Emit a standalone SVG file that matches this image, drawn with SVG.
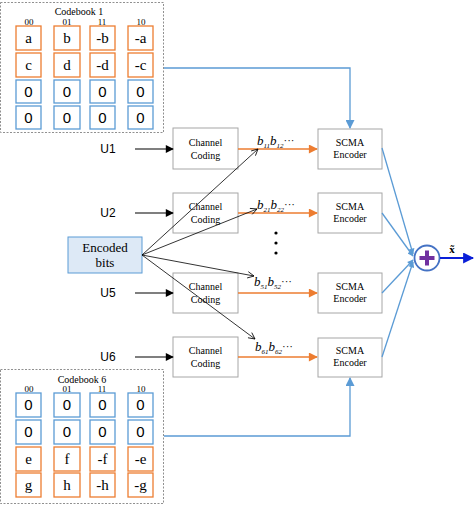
<svg xmlns="http://www.w3.org/2000/svg" width="474" height="505" viewBox="0 0 474 505">
<defs>
<style>
.serif{font-family:'Liberation Serif','DejaVu Serif',serif;fill:#000}
.sans{font-family:'Liberation Sans','DejaVu Sans',sans-serif;fill:#000}
.cb{fill:none;stroke:#909090;stroke-width:1;stroke-dasharray:2,1.5}
.co{fill:#fff;stroke:#ed7d31;stroke-width:1.3}
.cbl{fill:#fff;stroke:#5b9bd5;stroke-width:1.3}
.box{fill:#fff;stroke:#a6a6a6;stroke-width:1}
.cell{font-size:15px;text-anchor:middle}
.hdr{font-size:9px;text-anchor:middle}
.lbl{font-size:10px;text-anchor:middle}
.u{font-size:12px;text-anchor:middle}
.blk{stroke:#000;stroke-width:1.2;fill:none}
.thin{stroke:#000;stroke-width:0.8;fill:none}
.org{stroke:#ed7d31;stroke-width:1.6;fill:none}
.blu{stroke:#5b9bd5;stroke-width:1.3;fill:none}
.bit{font-size:13px;font-style:italic}
.sub{font-size:7px;font-style:italic}
</style>
<marker id="ab" viewBox="0 0 10 10" refX="9" refY="5" markerWidth="10" markerHeight="8" markerUnits="userSpaceOnUse" orient="auto"><path d="M0,0 L10,5 L0,10 Z" fill="#000"/></marker>
<marker id="ao" viewBox="0 0 10 10" refX="9" refY="5" markerWidth="10" markerHeight="9" markerUnits="userSpaceOnUse" orient="auto"><path d="M0,0 L10,5 L0,10 Z" fill="#ed7d31"/></marker>
<marker id="abl" viewBox="0 0 10 10" refX="9" refY="5" markerWidth="10" markerHeight="9" markerUnits="userSpaceOnUse" orient="auto"><path d="M0,0 L10,5 L0,10 Z" fill="#5b9bd5"/></marker>
<marker id="abl2" viewBox="0 0 10 10" refX="9" refY="5" markerWidth="7" markerHeight="6" markerUnits="userSpaceOnUse" orient="auto"><path d="M0,0 L10,5 L0,10 Z" fill="#5b9bd5"/></marker>
<marker id="aopen" viewBox="0 0 10 10" refX="9" refY="5" markerWidth="8" markerHeight="8" markerUnits="userSpaceOnUse" orient="auto"><path d="M1,1 L9,5 L1,9" fill="none" stroke="#000" stroke-width="1"/></marker>
<marker id="ablue" viewBox="0 0 10 10" refX="9" refY="5" markerWidth="14" markerHeight="11" markerUnits="userSpaceOnUse" orient="auto"><path d="M0,0 L10,5 L0,10 Z" fill="#0a1fd8"/></marker>
</defs>

<g id="codebook1">
<rect class="cb" x="0.5" y="2.5" width="163" height="130"/>
<text class="serif lbl" x="79" y="15">Codebook 1</text>
<text class="serif hdr" x="29" y="25">00</text>
<text class="serif hdr" x="67" y="25">01</text>
<text class="serif hdr" x="102" y="25">11</text>
<text class="serif hdr" x="141" y="25">10</text>
<rect class="co" x="16" y="26" width="25" height="24"/>
<rect class="co" x="54" y="26" width="26" height="24"/>
<rect class="co" x="90" y="26" width="25" height="24"/>
<rect class="co" x="128" y="26" width="25" height="24"/>
<rect class="co" x="16" y="53" width="25" height="24"/>
<rect class="co" x="54" y="53" width="26" height="24"/>
<rect class="co" x="90" y="53" width="25" height="24"/>
<rect class="co" x="128" y="53" width="25" height="24"/>
<rect class="cbl" x="16" y="80" width="25" height="23"/>
<rect class="cbl" x="54" y="80" width="26" height="23"/>
<rect class="cbl" x="90" y="80" width="25" height="23"/>
<rect class="cbl" x="128" y="80" width="25" height="23"/>
<rect class="cbl" x="16" y="106" width="25" height="23"/>
<rect class="cbl" x="54" y="106" width="26" height="23"/>
<rect class="cbl" x="90" y="106" width="25" height="23"/>
<rect class="cbl" x="128" y="106" width="25" height="23"/>
<text class="serif cell" x="28.5" y="43">a</text>
<text class="serif cell" x="67" y="43">b</text>
<text class="serif cell" x="102.5" y="43">-b</text>
<text class="serif cell" x="140.5" y="43">-a</text>
<text class="serif cell" x="28.5" y="70">c</text>
<text class="serif cell" x="67" y="70">d</text>
<text class="serif cell" x="102.5" y="70">-d</text>
<text class="serif cell" x="140.5" y="70">-c</text>
<text class="sans cell" x="28.5" y="97">0</text>
<text class="sans cell" x="67" y="97">0</text>
<text class="sans cell" x="102.5" y="97">0</text>
<text class="sans cell" x="140.5" y="97">0</text>
<text class="sans cell" x="28.5" y="123">0</text>
<text class="sans cell" x="67" y="123">0</text>
<text class="sans cell" x="102.5" y="123">0</text>
<text class="sans cell" x="140.5" y="123">0</text>
</g>

<g id="codebook6">
<rect class="cb" x="0.5" y="369.5" width="163" height="134"/>
<text class="serif lbl" x="82" y="383">Codebook 6</text>
<text class="serif hdr" x="29" y="392">00</text>
<text class="serif hdr" x="67" y="392">01</text>
<text class="serif hdr" x="102" y="392">11</text>
<text class="serif hdr" x="141" y="392">10</text>
<rect class="cbl" x="16" y="393" width="25" height="24"/>
<rect class="cbl" x="54" y="393" width="26" height="24"/>
<rect class="cbl" x="90" y="393" width="25" height="24"/>
<rect class="cbl" x="128" y="393" width="25" height="24"/>
<rect class="cbl" x="16" y="420" width="25" height="24"/>
<rect class="cbl" x="54" y="420" width="26" height="24"/>
<rect class="cbl" x="90" y="420" width="25" height="24"/>
<rect class="cbl" x="128" y="420" width="25" height="24"/>
<rect class="co" x="16" y="447" width="25" height="24"/>
<rect class="co" x="54" y="447" width="26" height="24"/>
<rect class="co" x="90" y="447" width="25" height="24"/>
<rect class="co" x="128" y="447" width="25" height="24"/>
<rect class="co" x="16" y="473" width="25" height="24"/>
<rect class="co" x="54" y="473" width="26" height="24"/>
<rect class="co" x="90" y="473" width="25" height="24"/>
<rect class="co" x="128" y="473" width="25" height="24"/>
<text class="sans cell" x="28.5" y="410">0</text>
<text class="sans cell" x="67" y="410">0</text>
<text class="sans cell" x="102.5" y="410">0</text>
<text class="sans cell" x="140.5" y="410">0</text>
<text class="sans cell" x="28.5" y="437">0</text>
<text class="sans cell" x="67" y="437">0</text>
<text class="sans cell" x="102.5" y="437">0</text>
<text class="sans cell" x="140.5" y="437">0</text>
<text class="serif cell" x="28.5" y="464">e</text>
<text class="serif cell" x="67" y="464">f</text>
<text class="serif cell" x="102.5" y="464">-f</text>
<text class="serif cell" x="140.5" y="464">-e</text>
<text class="serif cell" x="28.5" y="490">g</text>
<text class="serif cell" x="67" y="490">h</text>
<text class="serif cell" x="102.5" y="490">-h</text>
<text class="serif cell" x="140.5" y="490">-g</text>
</g>

<g id="users">
<text class="sans u" x="108" y="153">U1</text>
<text class="sans u" x="108" y="217">U2</text>
<text class="sans u" x="108" y="297">U5</text>
<text class="sans u" x="108" y="361">U6</text>
</g>

<g id="encoded-bits">
<rect x="68" y="237" width="74" height="36" fill="#dde9f6" stroke="#5b9bd5" stroke-width="1"/>
<text class="serif" font-size="13" text-anchor="middle" x="105" y="252">Encoded</text>
<text class="serif" font-size="13" text-anchor="middle" x="105" y="267">bits</text>
</g>

<g id="channel-coding-1"><rect class="box" x="173" y="128" width="65" height="41"/><text class="serif lbl" x="205.5" y="146">Channel</text><text class="serif lbl" x="205.5" y="159">Coding</text></g>
<g id="channel-coding-2"><rect class="box" x="173" y="193" width="65" height="40"/><text class="serif lbl" x="205.5" y="210">Channel</text><text class="serif lbl" x="205.5" y="223">Coding</text></g>
<g id="channel-coding-5"><rect class="box" x="173" y="273" width="65" height="40"/><text class="serif lbl" x="205.5" y="290">Channel</text><text class="serif lbl" x="205.5" y="303">Coding</text></g>
<g id="channel-coding-6"><rect class="box" x="173" y="337" width="65" height="40"/><text class="serif lbl" x="205.5" y="354">Channel</text><text class="serif lbl" x="205.5" y="367">Coding</text></g>

<g id="scma-1"><rect class="box" x="318" y="129" width="64" height="40"/><text class="serif lbl" x="350" y="146">SCMA</text><text class="serif lbl" x="350" y="158">Encoder</text></g>
<g id="scma-2"><rect class="box" x="318" y="193" width="64" height="40"/><text class="serif lbl" x="350" y="210">SCMA</text><text class="serif lbl" x="350" y="222">Encoder</text></g>
<g id="scma-5"><rect class="box" x="318" y="273" width="64" height="40"/><text class="serif lbl" x="350" y="290">SCMA</text><text class="serif lbl" x="350" y="302">Encoder</text></g>
<g id="scma-6"><rect class="box" x="318" y="338" width="64" height="39"/><text class="serif lbl" x="350" y="354">SCMA</text><text class="serif lbl" x="350" y="366">Encoder</text></g>

<g id="adder">
<circle cx="427" cy="258" r="12.5" fill="#fff" stroke="#4472c4" stroke-width="1.8"/>
<path d="M427,250.5 V265.5 M419.5,258 H434.5" stroke="#7030a0" stroke-width="4" fill="none"/>
</g>

<g id="bit-labels">
<text class="serif" x="257" y="145"><tspan class="bit">b</tspan><tspan class="sub" dy="3">11</tspan><tspan class="bit" dy="-3">b</tspan><tspan class="sub" dy="3">12</tspan><tspan font-size="11" dy="-4">···</tspan></text>
<text class="serif" x="257" y="209"><tspan class="bit">b</tspan><tspan class="sub" dy="3">21</tspan><tspan class="bit" dy="-3">b</tspan><tspan class="sub" dy="3">22</tspan><tspan font-size="11" dy="-4">···</tspan></text>
<text class="serif" x="254" y="286"><tspan class="bit">b</tspan><tspan class="sub" dy="3">51</tspan><tspan class="bit" dy="-3">b</tspan><tspan class="sub" dy="3">52</tspan><tspan font-size="11" dy="-4">···</tspan></text>
<text class="serif" x="255" y="351"><tspan class="bit">b</tspan><tspan class="sub" dy="3">61</tspan><tspan class="bit" dy="-3">b</tspan><tspan class="sub" dy="3">62</tspan><tspan font-size="11" dy="-4">···</tspan></text>
<circle cx="276" cy="233" r="1.6" fill="#000"/>
<circle cx="276" cy="243" r="1.6" fill="#000"/>
<circle cx="276" cy="253" r="1.6" fill="#000"/>
<text class="serif" font-size="11" font-weight="bold" text-anchor="middle" x="452" y="253">x̃</text>
</g>

<g id="connectors">
<line class="blk" x1="135" y1="149" x2="173" y2="149" marker-end="url(#ab)"/>
<line class="blk" x1="135" y1="213" x2="173" y2="213" marker-end="url(#ab)"/>
<line class="blk" x1="135" y1="293" x2="173" y2="293" marker-end="url(#ab)"/>
<line class="blk" x1="135" y1="357" x2="173" y2="357" marker-end="url(#ab)"/>
<line class="org" x1="238" y1="149" x2="317" y2="149" marker-end="url(#ao)"/>
<line class="org" x1="238" y1="213" x2="317" y2="213" marker-end="url(#ao)"/>
<line class="org" x1="238" y1="293" x2="317" y2="293" marker-end="url(#ao)"/>
<line class="org" x1="238" y1="357" x2="317" y2="357" marker-end="url(#ao)"/>
<line class="thin" x1="142" y1="255" x2="258" y2="149" marker-end="url(#aopen)"/>
<line class="thin" x1="142" y1="255" x2="257" y2="209" marker-end="url(#aopen)"/>
<line class="thin" x1="142" y1="255" x2="254" y2="276" marker-end="url(#aopen)"/>
<line class="thin" x1="142" y1="255" x2="255" y2="339" marker-end="url(#aopen)"/>
<polyline class="blu" points="164,68 350,68 350,128" marker-end="url(#abl)"/>
<polyline class="blu" points="164,436 350,436 350,378" marker-end="url(#abl)"/>
<line class="blu" x1="382" y1="148" x2="413" y2="254" marker-end="url(#abl2)"/>
<line class="blu" x1="382" y1="213" x2="413" y2="256" marker-end="url(#abl2)"/>
<line class="blu" x1="382" y1="293" x2="413" y2="260" marker-end="url(#abl2)"/>
<line class="blu" x1="382" y1="357" x2="413" y2="262" marker-end="url(#abl2)"/>
<line x1="440" y1="258" x2="473" y2="258" stroke="#0a1fd8" stroke-width="2" marker-end="url(#ablue)"/>
</g>
</svg>
